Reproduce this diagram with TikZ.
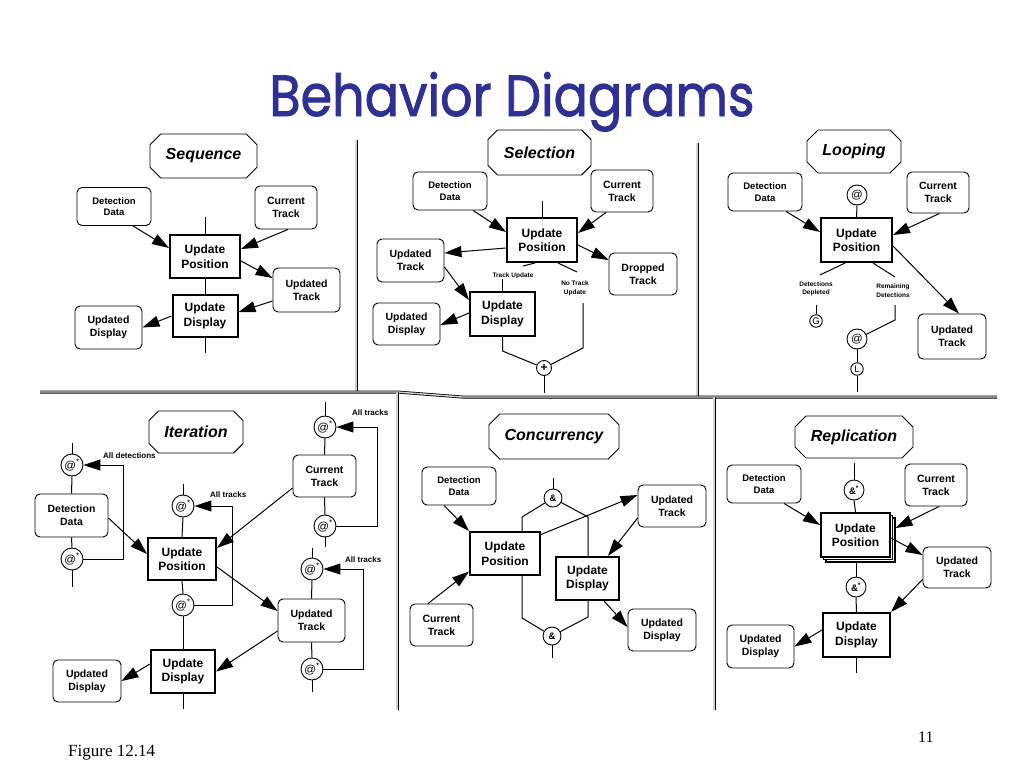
\documentclass[tikz,border=0pt]{standalone}
\usepackage{fontspec}
\setmainfont{Liberation Sans}
\newfontfamily\titlefont{Poppins}[FakeBold=1.6]
\newfontfamily\serifnote{Liberation Serif}
\usetikzlibrary{arrows.meta,shapes.misc}
\definecolor{titleblue}{RGB}{46,49,146}

\begin{document}
\begin{tikzpicture}[x=1pt,y=-1pt,
  data/.style={draw, rounded corners=5pt, line width=0.9pt, align=center, inner sep=0pt,
    minimum width=67pt, minimum height=43pt, font=\bfseries\fontsize{10.5}{13}\selectfont},
  smalldata/.style={data, minimum width=74pt, minimum height=38pt,
    font=\bfseries\fontsize{9.5}{11.5}\selectfont},
  func/.style={draw, line width=2pt, align=center, inner sep=0pt, fill=white,
    minimum width=69pt, minimum height=43pt, font=\bfseries\fontsize{12}{14.5}\selectfont},
  heading/.style={draw, chamfered rectangle, chamfered rectangle xsep=14pt, line width=0.9pt,
    inner sep=0pt, minimum height=44pt, font=\bfseries\itshape\fontsize{16}{19}\selectfont},
  ctrl/.style={draw, circle, line width=0.9pt, inner sep=0pt, minimum size=20pt,
    font=\fontsize{11.5}{12}\selectfont},
  iter/.style={ctrl, minimum size=22pt},
  amp/.style={ctrl, minimum size=18pt, font=\bfseries\fontsize{9.5}{9.5}\selectfont},
  stop/.style={ctrl, minimum size=12.5pt, font=\fontsize{9.5}{9.5}\selectfont},
  note/.style={align=center, inner sep=0pt, font=\bfseries\fontsize{6.5}{8.5}\selectfont},
  loopnote/.style={anchor=west, inner sep=0pt, font=\bfseries\fontsize{8}{9}\selectfont},
  wire/.style={line width=1pt},
  arr/.style={line width=1pt, -{Triangle[length=17pt,width=11pt]}},
  panelsep/.style={line width=0.8pt, double=gray!35, double distance=1.4pt}]

\useasboundingbox (0,0) rectangle (1024,768);

% title and footer
\node[anchor=base, text=titleblue, inner sep=0pt] (title) at (512,116)
  {\resizebox{485pt}{44pt}{\titlefont Behavior Diagrams}};
\node[anchor=base west, inner sep=0pt, font=\serifnote\fontsize{17}{20}\selectfont] (figno) at (68,756) {Figure 12.14};
\node[anchor=base west, inner sep=0pt, font=\serifnote\fontsize{16}{19}\selectfont] (pageno) at (918,742) {11};

% panel borders
\draw[panelsep] (356,140) -- (356,392);
\draw[panelsep] (697,143) -- (697,397);
\draw[panelsep] (40,392) -- (397,392) -- (462,397) -- (997,397);
\draw[panelsep] (397,392) -- (397,710);
\draw[panelsep] (714,397) -- (714,710);

% Sequence
\node[heading, minimum width=107pt] (seqhead) at (203.5,156) {Sequence};
\node[smalldata] (seqdd) at (114,206.5) {Detection\\Data};
\node[data, minimum width=62pt] (seqct) at (286,207.5) {Current\\Track};
\node[func, minimum width=70pt] (seqpos) at (205,256.5) {Update\\Position};
\node[func, minimum width=65pt, minimum height=42pt] (seqdisp) at (205,316) {Update\\Display};
\node[data, minimum height=44pt] (sequt) at (306.5,290) {Updated\\Track};
\node[data] (seqout) at (108.5,327.5) {Updated\\Display};
\coordinate (seqtop) at (205,217);
\coordinate (seqbot) at (205,353);
\draw[wire] (seqtop) -- (seqpos.north);
\draw[wire] (seqpos.south) -- (seqdisp.north);
\draw[wire] (seqdisp.south) -- (seqbot);
\draw[arr] ([xshift=19pt]seqdd.south) -- ([yshift=8.5pt]seqpos.west);
\draw[arr] ([xshift=2pt]seqct.south) -- ([yshift=7.5pt]seqpos.east);
\draw[arr] ([yshift=-4.5pt]seqpos.east) -- ([yshift=12pt]sequt.west);
\draw[arr] ([yshift=-11pt]sequt.west) -- ([yshift=4pt]seqdisp.east);
\draw[arr] (seqdisp.west) -- (seqout.east);

% Selection
\node[heading, minimum width=103pt, minimum height=45pt] (selhead) at (539.5,152.5) {Selection};
\node[smalldata] (seldd) at (450,191) {Detection\\Data};
\node[data, minimum width=62pt, minimum height=42pt] (selct) at (622,191) {Current\\Track};
\node[func, minimum width=70pt, minimum height=44pt] (selpos) at (542,240) {Update\\Position};
\node[data] (selut) at (410.5,260.5) {Updated\\Track};
\node[data, minimum width=68pt, minimum height=42pt] (seldrop) at (643,274) {Dropped\\Track};
\node[func, minimum width=65pt, minimum height=44pt] (seldisp) at (502.5,314) {Update\\Display};
\node[data, minimum height=42pt] (selout) at (406.5,324) {Updated\\Display};
\node[note] (seltu) at (513,276) {Track Update};
\node[note] (selntu) at (575,288.5) {No Track\\Update};
\node[ctrl, minimum size=15pt, font=\bfseries\fontsize{12}{12}\selectfont] (selplus) at (544,368) {+};
\coordinate (seltop) at (542,201);
\coordinate (seltua) at (523,266);
\coordinate (selntua) at (577,272);
\coordinate (selntub) at (583,303);
\coordinate (selntuc) at (583,348);
\draw[wire] (seltop) -- (selpos.north);
\draw[wire] ([xshift=-7pt]selpos.south) -- (seltua);
\draw[wire] (seldisp.north) -- (seldisp.north |- seltu.south);
\draw[wire] ([xshift=16pt]selpos.south) -- (selntua);
\draw[wire] (selntub) -- (selntuc) -- (selplus);
\draw[wire] (seldisp.south) -- ++(0,14) -- (selplus);
\draw[wire] (selplus.south) -- ++(0,17);
\draw[arr] ([xshift=23pt]seldd.south) -- ([yshift=8pt]selpos.west);
\draw[arr] ([xshift=-16pt]selct.south) -- ([yshift=7pt]selpos.east);
\draw[arr] ([yshift=-8pt]selpos.west) -- ([yshift=7.5pt]selut.east);
\draw[arr] ([yshift=-5pt]selpos.east) -- ([yshift=14pt]seldrop.west);
\draw[arr] ([yshift=-6.5pt]selut.east) -- ([yshift=14pt]seldisp.west);
\draw[arr] ([yshift=1pt]seldisp.west) -- ([yshift=-1pt]selout.east);

% Looping
\node[heading, minimum width=94pt, minimum height=43pt] (lophead) at (854,151.5) {Looping};
\node[smalldata] (lopdd) at (765,192) {Detection\\Data};
\node[data, minimum width=62pt, minimum height=41pt] (lopct) at (938,192.5) {Current\\Track};
\node[ctrl] (lopat) at (857,195) {@};
\node[func, minimum width=71pt, minimum height=44pt] (loppos) at (856.5,240) {Update\\Position};
\node[data, minimum width=68pt, minimum height=45pt] (loput) at (952,336.5) {Updated\\Track};
\node[note] (lopdep) at (816,289) {Detections\\Depleted};
\node[note] (loprem) at (893,290.5) {Remaining\\Detections};
\node[stop] (lopg) at (816,321) {G};
\node[ctrl] (lopat2) at (857,339) {@};
\node[stop] (lopl) at (857,369) {L};
\coordinate (lopdda) at (820,275);
\coordinate (loprda) at (895,277);
\coordinate (loprdb) at (895,305);
\coordinate (loprdc) at (895,320);
\draw[wire] (lopat.south) -- (loppos.north);
\draw[wire] ([xshift=-11.5pt]loppos.south) -- (lopdda);
\draw[wire] (lopg.north) -- ++(0,-9);
\draw[wire] ([xshift=16.5pt]loppos.south) -- (loprda);
\draw[wire] (loprdb) -- (loprdc) -- (lopat2);
\draw[wire] (lopat2) -- (lopl);
\draw[wire] (lopl.south) -- ++(0,16);
\draw[arr] ([xshift=21pt]lopdd.south) -- ([yshift=8pt]loppos.west);
\draw[arr] ([xshift=1.5pt]lopct.south) -- ([yshift=5pt]loppos.east);
\draw[arr] ([yshift=-6pt]loppos.east) -- ([xshift=7pt]loput.north);

% Iteration
\node[heading, minimum width=94pt, minimum height=42pt] (ithead) at (196,432) {Iteration};
\node[data, minimum width=73pt] (itdd) at (71.5,515.5) {Detection\\Data};
\node[iter] (itat1) at (72,465) {@\textsuperscript{*}};
\node[iter] (itat2) at (72,559) {@\textsuperscript{*}};
\node[func, minimum width=68pt, minimum height=42pt] (itpos) at (182,559) {Update\\Position};
\node[iter] (itat3) at (183,506) {@\textsuperscript{*}};
\node[iter] (itat4) at (183,605) {@\textsuperscript{*}};
\node[data, minimum width=63pt, minimum height=42pt] (itct) at (324.5,476) {Current\\Track};
\node[iter] (itat5) at (325,427) {@\textsuperscript{*}};
\node[iter] (itat6) at (325,526) {@\textsuperscript{*}};
\node[data] (itut) at (311.5,620.5) {Updated\\Track};
\node[iter] (itat7) at (312,569) {@\textsuperscript{*}};
\node[iter] (itat8) at (312,669) {@\textsuperscript{*}};
\node[func, minimum width=64pt] (itdisp) at (183,671.5) {Update\\Display};
\node[data, minimum width=68pt, minimum height=42pt] (itout) at (87,681) {Updated\\Display};
\node[loopnote] (italld) at (103,456) {All detections};
\node[loopnote] (italltp) at (210,495) {All tracks};
\node[loopnote] (italltc) at (352,413) {All tracks};
\node[loopnote] (italltu) at (345,560) {All tracks};
\draw[wire] (itat1.north) -- ++(0,-11);
\draw[wire] (itat1.south) -- (itdd.north);
\draw[wire] (itdd.south) -- (itat2.north);
\draw[wire] (itat2.south) -- ++(0,17);
\draw[arr] (itat2.east) -- ++(40,0) |- (itat1.east);
\draw[wire] (itat3.north) -- ++(0,-11);
\draw[wire] (itat3.south) -- (itpos.north);
\draw[wire] (itpos.south) -- (itat4.north);
\draw[wire] (itat4.south) -- (itdisp.north);
\draw[arr] (itat4.east) -- ++(38,0) |- (itat3.east);
\draw[wire] (itat5.north) -- ++(0,-14);
\draw[wire] (itat5.south) -- (itct.north);
\draw[wire] (itct.south) -- (itat6.north);
\draw[wire] (itat6.south) -- ++(0,10);
\draw[arr] (itat6.east) -- ++(41,0) |- (itat5.east);
\draw[wire] (itat7.north) -- ++(0,-10);
\draw[wire] (itat7.south) -- (itut.north);
\draw[wire] (itut.south) -- (itat8.north);
\draw[wire] (itat8.south) -- ++(0,12);
\draw[arr] (itat8.east) -- ++(40,0) |- (itat7.east);
\draw[wire] (itdisp.south) -- ++(0,15);
\draw[arr] ([yshift=-2.5pt]itdd.east) -- ([yshift=5pt]itpos.west);
\draw[arr] ([yshift=-12pt]itct.west) -- ([yshift=11pt]itpos.east);
\draw[arr] ([yshift=-8pt]itpos.east) -- ([yshift=9.5pt]itut.west);
\draw[arr] ([yshift=-10.5pt]itut.west) -- (itdisp.east);
\draw[arr] ([yshift=7.5pt]itdisp.west) -- (itout.east);

% Concurrency
\node[heading, minimum width=130pt, minimum height=45pt] (cohead) at (554,436.5) {Concurrency};
\node[smalldata] (codd) at (459,486) {Detection\\Data};
\node[data, minimum width=63pt, minimum height=42pt] (coct) at (441.5,625) {Current\\Track};
\node[func, minimum width=70pt] (copos) at (505,553.5) {Update\\Position};
\node[func, minimum width=63pt] (codisp) at (587.5,578.5) {Update\\Display};
\node[data, minimum width=68pt, minimum height=42pt] (cout) at (672,506) {Updated\\Track};
\node[data, minimum width=68pt, minimum height=42pt] (coout) at (662,630) {Updated\\Display};
\node[amp] (coand1) at (553,498) {\&};
\node[amp] (coand2) at (552,636) {\&};
\coordinate (cofl) at (522,517);
\coordinate (cofr) at (588,517);
\coordinate (cojl) at (522,618);
\coordinate (cojr) at (588,617);
\draw[wire] (coand1.north) -- ++(0,-11);
\draw[wire] (coand1) -- (cofl) -- (cofl |- copos.north);
\draw[wire] (coand1) -- (cofr) -- (cofr |- codisp.north);
\draw[wire] (cojl |- copos.south) -- (cojl) -- (coand2);
\draw[wire] (cojr |- codisp.south) -- (cojr) -- (coand2);
\draw[wire] (coand2.south) -- ++(0,13);
\draw[arr] ([xshift=-15pt]codd.south) -- (copos.north west);
\draw[arr] ([xshift=-13.5pt]coct.north) -- ([yshift=-18pt]copos.west);
\draw[arr] ([yshift=19pt]copos.east) -- ([yshift=11pt]cout.west);
\draw[arr] ([yshift=-12pt]cout.west) -- ([xshift=20.5pt]codisp.north);
\draw[arr] ([xshift=16.5pt]codisp.south) -- ([yshift=3pt]coout.west);

% Replication
\node[heading, minimum width=118pt, minimum height=42pt] (rehead) at (854,437) {Replication};
\node[smalldata] (redd) at (764,484) {Detection\\Data};
\node[data, minimum width=62pt, minimum height=42pt] (rect) at (936,485) {Current\\Track};
\node[amp, minimum size=20pt] (reamp1) at (854,490) {\&\textsuperscript{*}};
\node[func, line width=1.2pt, minimum height=44pt] (reposc) at (860.5,540) {};
\node[func, line width=1.2pt, minimum height=44pt] (reposb) at (858,537.5) {};
\node[func, minimum height=44pt] (repos) at (855.5,535) {Update\\Position};
\node[amp, minimum size=20pt] (reamp2) at (856,587) {\&\textsuperscript{*}};
\node[func, minimum width=67pt, minimum height=44pt] (redisp) at (856.5,635) {Update\\Display};
\node[data, minimum width=68pt, minimum height=41pt] (reut) at (957,567.5) {Updated\\Track};
\node[data] (reout) at (760.5,646.5) {Updated\\Display};
\draw[wire] (reamp1.north) -- ++(0,-17);
\draw[wire] (reamp1.south) -- (repos.north);
\draw[wire] (reamp2.north |- reposc.south) -- (reamp2.north);
\draw[wire] (reamp2.south) -- (redisp.north);
\draw[wire] (redisp.south) -- ++(0,15);
\draw[arr] ([xshift=20pt]redd.south) -- ([yshift=10pt]repos.west);
\draw[arr] ([xshift=3pt]rect.south) -- ([yshift=12pt]reposc.east);
\draw[arr] ([yshift=-3pt]repos.east) -- ([yshift=12.5pt]reut.west);
\draw[arr] ([yshift=-12pt]reut.west) -- (redisp.north east);
\draw[arr] ([yshift=5pt]redisp.west) -- (reout.east);
\end{tikzpicture}
\end{document}
